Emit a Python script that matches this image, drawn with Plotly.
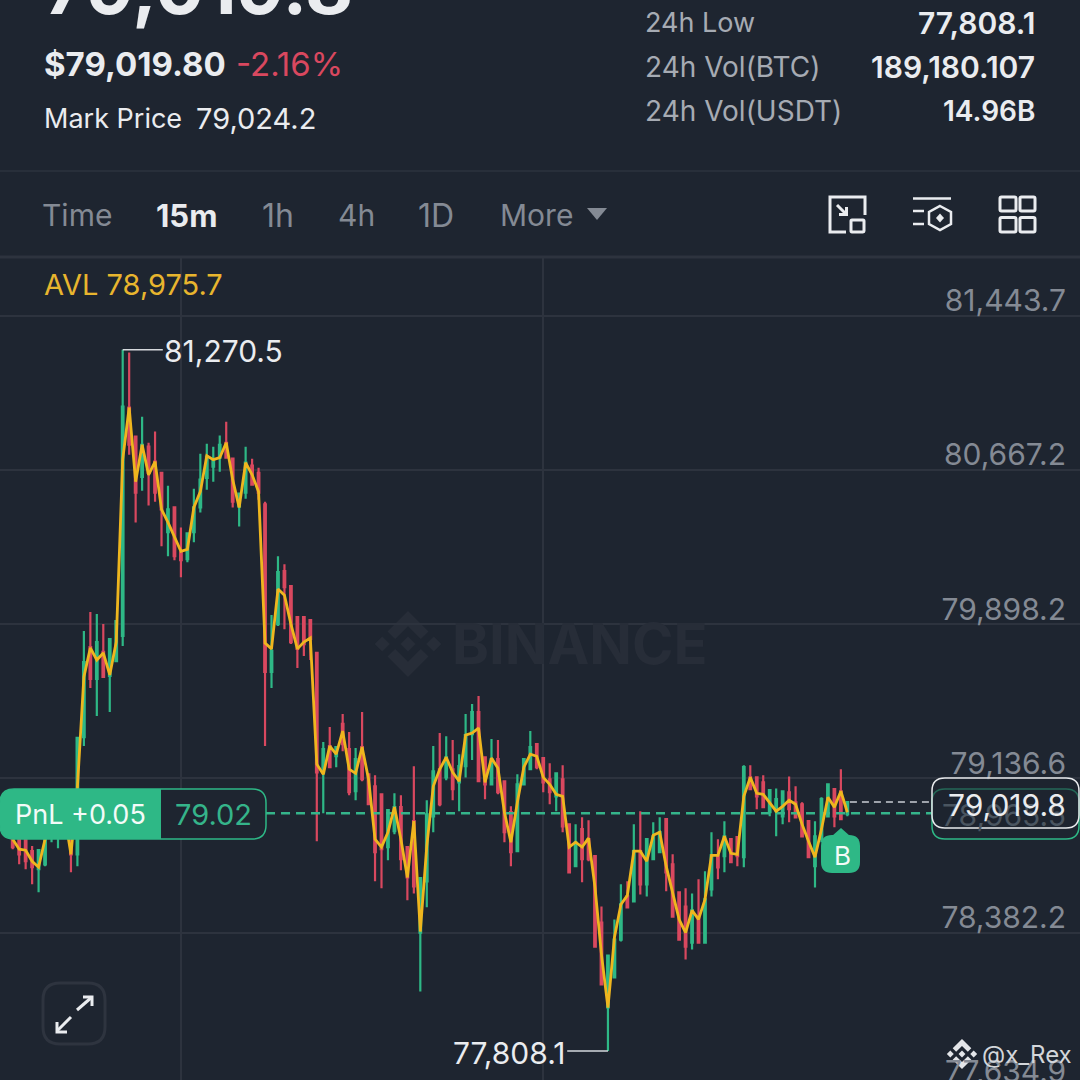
import plotly.graph_objects as go

# candles, oldest first (prices)
highs = [
    78911, 78887, 78877, 78804, 78784, 78911, 79034, 79009, 79009, 79034, 79335, 79864, 79958, 79948, 79898, 79824,
    79913, 81270.5, 81257, 80839, 80934, 80803, 80859, 80652, 80588, 80479, 80379, 80350, 80573, 80748, 80798, 80783,
    80839, 80909, 80723, 80548, 80783, 80723, 80677, 80508, 79943, 80236, 80196, 80087, 79933, 79933, 79918, 79755,
    79315, 79389, 79290, 79453, 79364, 79285, 79463, 79156, 79151, 79058, 78980, 79063, 79053, 78799, 79196, 78647,
    79029, 79295, 79359, 79344, 79325, 79255, 79453, 79503, 79542, 79240, 79330, 79325, 79122, 78999, 79156, 79231,
    79369, 79310, 79236, 79211, 79161, 79201, 78911, 78911, 78945, 78931, 78755, 78509, 78270, 78446, 78617, 78632,
    78911, 78975, 78838, 78921, 78945, 78941, 78764, 78578, 78598, 78573, 78642, 78681, 78872, 78838, 78926, 78838,
    78848, 79201, 79201, 79141, 79151, 79078, 79087, 79078, 79146, 79097, 79019, 78926, 78926, 79043, 79107, 79083,
    79181, 79019.8,
]
lows = [
    78789, 78715, 78691, 78617, 78578, 78706, 78823, 78794, 78862, 78676, 78706, 79295, 79582, 79443, 79636, 79463,
    79710, 79789, 80743, 80404, 80563, 80489, 80508, 80285, 80236, 80216, 80131, 80206, 80305, 80454, 80568, 80607,
    80657, 80723, 80479, 80384, 80523, 80593, 80518, 79295, 79582, 79888, 79873, 79799, 79681, 79740, 79720, 78828,
    78965, 79191, 79191, 79270, 79053, 79029, 79122, 79004, 78632, 78598, 78735, 78862, 78686, 78539, 78573, 78096,
    78505, 78872, 78999, 79127, 79029, 78975, 79141, 79226, 79117, 79034, 79102, 79058, 78823, 78706, 78779, 79107,
    79181, 79181, 79068, 79009, 78975, 78872, 78676, 78706, 78627, 78730, 78314, 78130, 77808.1, 78164, 78338, 78505,
    78534, 78568, 78558, 78740, 78774, 78583, 78460, 78348, 78251, 78300, 78333, 78333, 78558, 78642, 78676, 78725,
    78706, 78700, 79083, 78985, 78995, 78950, 78852, 78911, 78921, 78941, 78852, 78750, 78602, 78823, 78945, 78896,
    78931, 78950,
]
opens = [
    78896, 78862, 78838, 78779, 78691, 78715, 78848, 78848, 78911, 78960, 78764, 79339, 79784, 79626, 79760, 79641,
    79715, 79839, 80980, 80834, 80632, 80783, 80708, 80652, 80355, 80479, 80255, 80221, 80355, 80479, 80627, 80683,
    80728, 80803, 80723, 80484, 80553, 80688, 80652, 80494, 79661, 79898, 80161, 80087, 79933, 79933, 79918, 79755,
    79166, 79295, 79245, 79404, 79280, 79073, 79290, 79156, 79097, 79058, 78799, 78877, 78995, 78799, 78926, 78382,
    78632, 78950, 79181, 79141, 79181, 79117, 79196, 79354, 79463, 79240, 79107, 79231, 79122, 78970, 78779, 79107,
    79181, 79305, 79236, 79132, 79048, 79132, 78911, 78706, 78887, 78838, 78755, 78431, 78018, 78164, 78348, 78558,
    78534, 78779, 78617, 78740, 78774, 78936, 78715, 78578, 78509, 78333, 78460, 78333, 78593, 78759, 78755, 78838,
    78848, 78750, 79141, 79141, 79117, 78970, 78975, 78950, 79068, 79019, 79009, 78926, 78706, 78838, 78950, 79083,
    79073, 78960,
]
closes = [
    78799, 78764, 78730, 78701, 78784, 78887, 78960, 78975, 78985, 78764, 79335, 79710, 79626, 79809, 79636, 79824,
    79913, 80985, 80793, 80553, 80793, 80652, 80553, 80469, 80469, 80236, 80216, 80350, 80479, 80618, 80733, 80718,
    80793, 80728, 80508, 80548, 80703, 80593, 80553, 79661, 79765, 80156, 80082, 79809, 79775, 79799, 79824, 79166,
    79280, 79191, 79290, 79305, 79068, 79231, 79132, 79009, 78774, 78789, 78980, 78995, 78740, 78651, 78607, 78647,
    78960, 79171, 79009, 79240, 79083, 79196, 79349, 79463, 79122, 79107, 79231, 79068, 78872, 78774, 79107, 79231,
    79290, 79191, 79117, 79068, 79161, 78901, 78676, 78823, 78740, 78740, 78314, 78130, 78270, 78348, 78519, 78505,
    78779, 78617, 78838, 78852, 78872, 78676, 78460, 78348, 78314, 78490, 78333, 78544, 78759, 78700, 78852, 78725,
    78755, 79191, 79083, 79048, 78995, 79078, 79034, 79073, 78985, 78945, 78852, 78750, 78852, 79034, 79107, 78950,
    78936, 79019.8,
]
avl = [
    78838, 78789, 78784, 78730, 78701, 78838, 78911, 78960, 78960, 78764, 79093, 79636, 79780, 79720, 79755, 79646,
    79809, 80718, 80980, 80608, 80793, 80642, 80708, 80469, 80404, 80330, 80260, 80270, 80479, 80558, 80738, 80718,
    80728, 80803, 80618, 80479, 80703, 80642, 80558, 79804, 79775, 80072, 80042, 79898, 79775, 79809, 79829, 79206,
    79156, 79295, 79255, 79369, 79181, 79161, 79290, 79132, 78838, 78799, 78872, 78995, 78838, 78651, 78926, 78387,
    78804, 79097, 79181, 79240, 79166, 79122, 79349, 79359, 79384, 79117, 79236, 79186, 78970, 78823, 79019, 79191,
    79255, 79245, 79141, 79107, 79058, 79048, 78799, 78823, 78799, 78843, 78602, 78275, 78018, 78358, 78519, 78563,
    78779, 78779, 78730, 78857, 78872, 78706, 78578, 78446, 78382, 78490, 78446, 78544, 78759, 78759, 78852, 78769,
    78764, 79048, 79141, 79063, 79058, 79019, 78975, 78999, 79029, 79009, 78911, 78828, 78750, 78887, 79043, 78995,
    79073, 78970,
]

price_ticks = [81443.7, 80667.2, 79898.2, 79136.6, 78382.2]
price_tick_text = ["81,443.7", "80,667.2", "79,898.2", "79,136.6", "78,382.2"]
time_ticks = [26, 82]
entry_price = 78965.5
last_price = 79019.8
day_high = 81270.5
day_low = 77808.1

BG = "#1e2530"
GRID = "#2d333e"
GREEN = "#2EB886"
RED = "#D9485F"
YELLOW = "#EFB61E"
WHITE = "#EAECEF"
GREY = "#848A94"
FONT = "Inter"

if not len(highs) == len(lows) == len(opens) == len(closes) == len(avl):
    raise ValueError(f"{len(highs)} {len(lows)} {len(opens)} {len(closes)} {len(avl)}")


def px_x(x):
    return x / 1080


def px_y(y):
    return 1 - y / 1080


def label(text, x, y, size, color, anchor="left", weight=400):
    return dict(
        text=text, x=px_x(x), y=px_y(y), xref="paper", yref="paper", xanchor=anchor, yanchor="middle",
        showarrow=False, font=dict(family=FONT, size=size, color=color, weight=weight), borderpad=0, borderwidth=0,
    )


def polygon(points, close=True):
    path = "M " + " L ".join(f"{px_x(x):.5f} {px_y(y):.5f}" for x, y in points)
    return path + (" Z" if close else "")


def rounded(x0, y0, x1, y1, r, left=True, right=True):
    rl = r if left else 0
    rr = r if right else 0
    return (
        f"M {px_x(x0 + rl):.5f} {px_y(y0):.5f} L {px_x(x1 - rr):.5f} {px_y(y0):.5f} "
        f"Q {px_x(x1):.5f} {px_y(y0):.5f} {px_x(x1):.5f} {px_y(y0 + rr):.5f} "
        f"L {px_x(x1):.5f} {px_y(y1 - rr):.5f} "
        f"Q {px_x(x1):.5f} {px_y(y1):.5f} {px_x(x1 - rr):.5f} {px_y(y1):.5f} "
        f"L {px_x(x0 + rl):.5f} {px_y(y1):.5f} "
        f"Q {px_x(x0):.5f} {px_y(y1):.5f} {px_x(x0):.5f} {px_y(y1 - rl):.5f} "
        f"L {px_x(x0):.5f} {px_y(y0 + rl):.5f} "
        f"Q {px_x(x0):.5f} {px_y(y0):.5f} {px_x(x0 + rl):.5f} {px_y(y0):.5f} Z"
    )


def filled(path, color, layer="above"):
    return dict(type="path", path=path, xref="paper", yref="paper", fillcolor=color, line=dict(width=0), layer=layer)


def stroked(path, color=WHITE, width=3, fill="rgba(0,0,0,0)"):
    return dict(
        type="path", path=path, xref="paper", yref="paper", fillcolor=fill,
        line=dict(color=color, width=width), layer="above",
    )


def rule(y, width=1.5):
    return dict(
        type="line", x0=0, x1=1, y0=px_y(y), y1=px_y(y), xref="paper", yref="paper",
        line=dict(color=GRID, width=width), layer="below",
    )


def logo(cx, cy, s, color, layer):
    def at(points):
        return [(cx + a * s, cy + b * s) for a, b in points]

    diamond = [(0, -0.23), (0.23, 0), (0, 0.23), (-0.23, 0)]
    top = [(0, -1), (0.62, -0.38), (0.39, -0.15), (0, -0.54), (-0.39, -0.15), (-0.62, -0.38)]
    bottom = [(a, -b) for a, b in top]
    left = [(a - 0.78, b) for a, b in diamond]
    right = [(a + 0.78, b) for a, b in diamond]
    return [filled(polygon(at(p)), color, layer) for p in [diamond, top, bottom, left, right]]


fig = go.Figure()
fig.add_trace(
    go.Candlestick(
        x=list(range(len(opens))), open=opens, high=highs, low=lows, close=closes, whiskerwidth=0,
        increasing=dict(line=dict(color=GREEN, width=2.2), fillcolor=GREEN),
        decreasing=dict(line=dict(color=RED, width=2.2), fillcolor=RED),
        hoverinfo="skip", showlegend=False,
    )
)
# position line of the open trade and the last price line
fig.add_trace(
    go.Scatter(
        x=[39.15, 142.1], y=[entry_price, entry_price], mode="lines", hoverinfo="skip", showlegend=False,
        line=dict(color="#35B48A", width=2.5, dash="9px,6px"),
    )
)
fig.add_trace(
    go.Scatter(
        x=[129.4, 142.1], y=[last_price, last_price], mode="lines", hoverinfo="skip", showlegend=False,
        line=dict(color="#C9CDD3", width=1.5, dash="7px,5px"),
    )
)
fig.add_trace(
    go.Scatter(
        x=list(range(len(avl))), y=avl, mode="lines", hoverinfo="skip", showlegend=False,
        line=dict(color=YELLOW, width=2.8),
    )
)
# leader lines to the day high and low labels
fig.add_trace(
    go.Scatter(
        x=[17, 23.2], y=[day_high, day_high], mode="lines", hoverinfo="skip", showlegend=False,
        line=dict(color="#D5D8DC", width=1.5),
    )
)
fig.add_trace(
    go.Scatter(
        x=[85.7, 92], y=[day_low, day_low], mode="lines", hoverinfo="skip", showlegend=False,
        line=dict(color="#D5D8DC", width=1.5),
    )
)

annotations = [
    label("79,019.8", 44, -13, 74, WHITE, weight=700),
    label("$79,019.80", 44, 64, 33, WHITE, weight=700),
    label("-2.16%", 236, 64, 33, RED),
    label("Mark Price", 44, 118, 27, WHITE),
    label("79,024.2", 196, 118, 29, WHITE),
    label("24h Low", 645, 23, 27, "#A6ABB3"),
    label("24h Vol(BTC)", 645, 67, 28, "#A6ABB3"),
    label("24h Vol(USDT)", 645, 111, 28, "#A6ABB3"),
    label("77,808.1", 1035, 23, 30, WHITE, "right", 600),
    label("189,180.107", 1035, 67, 30, WHITE, "right", 600),
    label("14.96B", 1035, 111, 28, WHITE, "right", 600),
    label("Time", 42, 215, 30, GREY),
    label("15m", 156, 215, 31, WHITE, weight=700),
    label("1h", 262, 215, 32, GREY),
    label("4h", 338, 215, 30, GREY),
    label("1D", 418, 215, 32, GREY),
    label("More", 500, 215, 30, GREY),
    label("AVL 78,975.7", 44, 284, 29, "#E8B52E"),
    label("BINANCE", 452, 644, 56, "#272D38", weight=700),
    label("81,270.5", 164, 351, 30, WHITE),
    label("77,808.1", 565, 1053, 30, WHITE, "right"),
    label("77,634.9", 1066, 1071, 30, GREY, "right"),
    label("@x_Rex", 982, 1054, 24, "#D3D6DA"),
    label("78,965.5", 1066, 815, 30, "#4A5560", "right"),
    label("79,019.8", 1066, 805, 30, WHITE, "right"),
    label("PnL +0.05", 15, 814, 27, "#F3FBF8"),
    label("79.02", 175, 814, 29, "#35B48A"),
    label("B", 842, 855, 26, "#F3FBF8", "center"),
]

shapes = [rule(171), rule(257, 3)]
shapes += logo(408, 644, 33, "#272D38", "below")
shapes += logo(962, 1054, 15, "#E3E5E8", "above")

# price boxes on the axis
shapes.append(stroked(rounded(932, 789, 1079, 839, 13), "#2EB886", 1.5, "rgba(30,37,48,0.75)"))
shapes.append(stroked(rounded(932, 778, 1079, 828, 13), "#E8EAED", 1.5, "rgba(30,37,48,0.55)"))

# PnL pill
shapes.append(stroked(rounded(0, 789, 266, 839, 14), "#2EB886", 1.5, BG))
shapes.append(filled(rounded(0, 789, 161, 839, 14, right=False), "#2EB886"))

# buy marker
shapes.append(filled(rounded(821, 835, 860, 873, 11), "#2EB886"))
shapes.append(filled(polygon([(832, 836), (841, 828), (850, 836)]), "#2EB886"))

# expand button
shapes.append(stroked(rounded(43, 983, 105, 1044, 17), "#2E343F", 3))
shapes.append(stroked(polygon([(77, 1010), (92, 997)], False), WHITE, 3))
shapes.append(stroked(polygon([(83, 997), (92, 997), (92, 1006)], False), WHITE, 3))
shapes.append(stroked(polygon([(71, 1017), (57, 1031)], False), WHITE, 3))
shapes.append(stroked(polygon([(57, 1022), (57, 1032), (67, 1032)], False), WHITE, 3))

# More caret
shapes.append(filled(polygon([(587, 208), (607, 208), (597, 220)]), GREY))

# toolbar icons
shapes.append(stroked(polygon([(865, 215), (865, 197), (830, 197), (830, 232), (846, 232)], False), WHITE, 3))
shapes.append(stroked(rounded(851, 220, 864, 232, 1), WHITE, 3))
shapes.append(stroked(polygon([(837, 205), (846, 214)], False), WHITE, 3))
shapes.append(stroked(polygon([(846.5, 207), (846.5, 214.5), (839, 214.5)], False), WHITE, 3))
shapes.append(stroked(polygon([(913, 198.5), (951, 198.5)], False), WHITE, 2.5))
shapes.append(stroked(polygon([(913, 211), (924, 211)], False), WHITE, 2.5))
shapes.append(stroked(polygon([(913, 224), (924, 224)], False), WHITE, 2.5))
shapes.append(
    stroked(polygon([(940, 206), (951, 212), (951, 224), (940, 230), (929, 224), (929, 212)]), WHITE, 2.5)
)
shapes.append(filled(polygon([(940, 213.5), (944, 218), (940, 222.5), (936, 218)]), WHITE))
for x0, x1 in [(1000, 1016), (1020, 1035)]:
    for y0, y1 in [(197, 211), (217.5, 232)]:
        shapes.append(stroked(rounded(x0, y0, x1, y1, 1.5), WHITE, 3))

fig.update_layout(
    width=1080, height=1080, autosize=False, margin=dict(l=0, r=0, t=0, b=0, pad=0),
    paper_bgcolor=BG, plot_bgcolor=BG, showlegend=False, boxgap=0.65, hovermode=False,
    annotations=annotations, shapes=shapes,
)
fig.update_xaxes(
    range=[-1.964, 164.96], tickmode="array", tickvals=time_ticks, showticklabels=False, ticks="",
    showgrid=True, gridcolor=GRID, gridwidth=1.5, zeroline=False, showline=False, rangeslider=dict(visible=False),
)
fig.update_yaxes(
    type="log", domain=[0, 822 / 1080], range=[4.89024, 4.91241], side="right", tickmode="array",
    tickvals=price_ticks, ticktext=price_tick_text, ticklabelposition="inside top", ticklabelstandoff=11,
    ticklabelshift=6, tickfont=dict(family=FONT, size=30, color=GREY), ticks="",
    showgrid=True, gridcolor=GRID, gridwidth=1.5, zeroline=False, showline=False,
)

fig.write_html("out.html", config=dict(displayModeBar=False), post_script="document.body.style.margin='0'")
